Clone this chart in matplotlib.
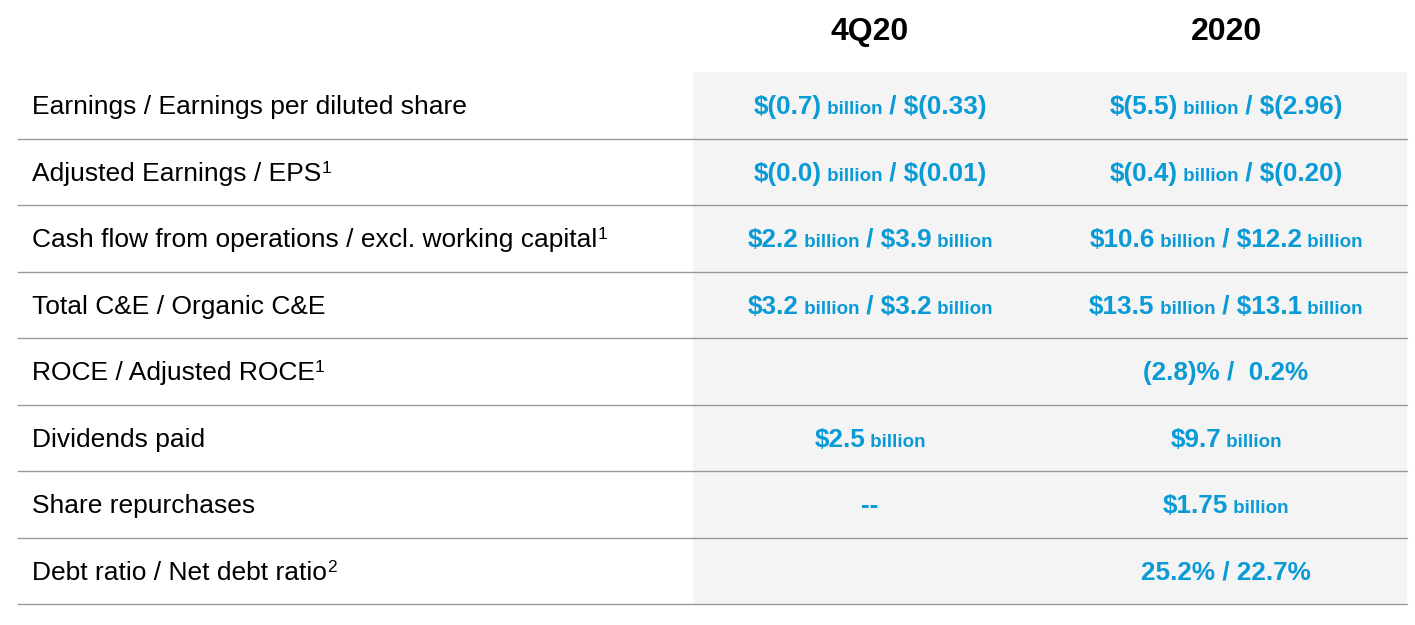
import matplotlib.pyplot as plt
from matplotlib.patches import Rectangle

plt.rcParams["font.family"] = "Liberation Sans"

# table content
col_headers = ["4Q20", "2020"]
row_labels = [
    ("Earnings / Earnings per diluted share", ""),
    ("Adjusted Earnings / EPS", "1"),
    ("Cash flow from operations / excl. working capital", "1"),
    ("Total C&E / Organic C&E", ""),
    ("ROCE / Adjusted ROCE", "1"),
    ("Dividends paid", ""),
    ("Share repurchases", ""),
    ("Debt ratio / Net debt ratio", "2"),
]
# each value: list of (text, is_small)
q4_values = [
    [("$(0.7)", 0), (" billion", 1), (" / $(0.33)", 0)],
    [("$(0.0)", 0), (" billion", 1), (" / $(0.01)", 0)],
    [("$2.2", 0), (" billion", 1), (" / $3.9", 0), (" billion", 1)],
    [("$3.2", 0), (" billion", 1), (" / $3.2", 0), (" billion", 1)],
    [],
    [("$2.5", 0), (" billion", 1)],
    [("--", 0)],
    [],
]
fy_values = [
    [("$(5.5)", 0), (" billion", 1), (" / $(2.96)", 0)],
    [("$(0.4)", 0), (" billion", 1), (" / $(0.20)", 0)],
    [("$10.6", 0), (" billion", 1), (" / $12.2", 0), (" billion", 1)],
    [("$13.5", 0), (" billion", 1), (" / $13.1", 0), (" billion", 1)],
    [("(2.8)% /  0.2%", 0)],
    [("$9.7", 0), (" billion", 1)],
    [("$1.75", 0), (" billion", 1)],
    [("25.2% / 22.7%", 0)],
]

BLUE = "#0a9bd6"
W, H = 1415, 625
fig = plt.figure(figsize=(W / 100, H / 100), dpi=100)
ax = fig.add_axes([0, 0, 1, 1])
ax.set_xlim(0, W)
ax.set_ylim(H, 0)
ax.axis("off")

top, row_h = 72, 66.5
ax.add_patch(Rectangle((693, top), 1407 - 693, row_h * len(row_labels), color="#f4f4f4", lw=0))
col_x = [870, 1226]
for x, h in zip(col_x, col_headers):
    ax.text(x, 32, h, ha="center", va="center", fontsize=23, fontweight="bold", color="black")

renderer = fig.canvas.get_renderer()


def draw_parts(parts, x, y, center=True, color=BLUE, sizes=(18.8, 13.5), bold=True, raise_small=0):
    texts = []
    for txt, small in parts:
        t = ax.text(0, y - (raise_small if small else 0), txt, ha="left", va="baseline",
                    fontsize=sizes[small], fontweight="bold" if bold else "normal", color=color)
        texts.append(t)
    widths = [t.get_window_extent(renderer).width for t in texts]
    total = sum(widths)
    cur = x - total / 2 if center else x
    for t, w in zip(texts, widths):
        t.set_x(cur)
        cur += w


for i, (lab, sup) in enumerate(row_labels):
    y0 = top + i * row_h
    yb = y0 + row_h / 2 + 9
    parts = [(lab, 0)] + ([(sup, 1)] if sup else [])
    draw_parts(parts, 32, yb, center=False, color="black", sizes=(19, 12.5), bold=False, raise_small=8)
    for x, vals in zip(col_x, [q4_values[i], fy_values[i]]):
        if vals:
            draw_parts(vals, x, yb)
    ax.plot([18, 1407], [y0 + row_h] * 2, color="#999999", lw=1)

fig.savefig("out.png", dpi=100)
